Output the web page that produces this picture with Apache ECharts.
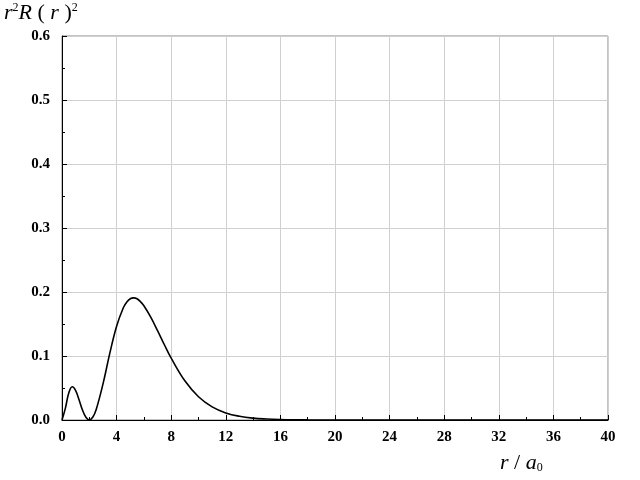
<!DOCTYPE html><html><head><meta charset="utf-8">
<script src="https://cdn.jsdelivr.net/npm/echarts@6/dist/echarts.min.js"></script>
<style>body{margin:0}#c{width:640px;height:480px}</style></head><body><div id="c"></div><script>
const rValues=[0,0.25,0.5,0.75,1,1.25,1.5,1.75,2,2.25,2.5,3,3.5,4,4.5,4.75,5,5.25,5.5,5.75,6,6.5,7,7.5,8,9,10,11,12,13,14,15,16,17,18,20,24,30,40];
const pValues=[0,0.0186,0.0426,0.0519,0.046,0.0315,0.0157,0.0042,0,0.0042,0.016,0.056,0.104,0.1465,0.1757,0.1845,0.1895,0.1908,0.1894,0.1848,0.1785,0.1607,0.1396,0.1176,0.0966,0.0612,0.0363,0.0205,0.0111,0.0058,0.0029,0.0015,0.0007,0.0003,0.00015,0.00003,0,0,0];
const xTicks=[0,4,8,12,16,20,24,28,32,36,40];
const yTicks=[0,0.1,0.2,0.3,0.4,0.5,0.6];
const font='Liberation Serif';
const c=echarts.init(document.getElementById('c'));
c.setOption({animation:false,
grid:{left:62,right:32,top:36,bottom:60,show:true,borderColor:'#888',borderWidth:1},
xAxis:{type:'value',min:0,max:40,interval:4,axisLine:{onZero:false,lineStyle:{color:'#000'}},
 axisTick:{inside:true,length:5,lineStyle:{color:'#000'}},minorTick:{show:true,splitNumber:2,length:3,lineStyle:{color:'#000'}},
 splitLine:{lineStyle:{color:'#d0d0d0'}},axisLabel:{fontFamily:font,fontWeight:'bold',fontSize:15,color:'#000',margin:10}},
yAxis:{type:'value',min:0,max:0.6,interval:0.1,axisLine:{show:true,lineStyle:{color:'#000'}},
 axisTick:{show:true,inside:true,length:5,lineStyle:{color:'#000'}},minorTick:{show:true,splitNumber:2,length:3,lineStyle:{color:'#000'}},
 splitLine:{lineStyle:{color:'#d0d0d0'}},axisLabel:{fontFamily:font,fontWeight:'bold',fontSize:15,color:'#000',margin:12,formatter:v=>v.toFixed(1)}},
graphic:[
{type:'text',left:4,top:2,style:{rich:{i:{fontFamily:font,fontStyle:'italic',fontSize:22},s:{fontFamily:font,fontSize:12,verticalAlign:'top',padding:[0,0,10,0]},n:{fontFamily:font,fontSize:22}},text:'{i|r}{s|2}{i|R}{n| ( }{i|r}{n| )}{s|2}',fill:'#000'}},
{type:'text',left:500,top:452,style:{rich:{i:{fontFamily:font,fontStyle:'italic',fontSize:22},s:{fontFamily:font,fontSize:12,padding:[10,0,0,0]},n:{fontFamily:font,fontSize:22}},text:'{i|r}{n| / }{i|a}{s|0}',fill:'#000'}}
],
series:[{type:'line',data:rValues.map((r,i)=>[r,pValues[i]]),smooth:0.4,smoothMonotone:'none',showSymbol:false,lineStyle:{color:'#000',width:1.6}}]});
</script></body></html>
